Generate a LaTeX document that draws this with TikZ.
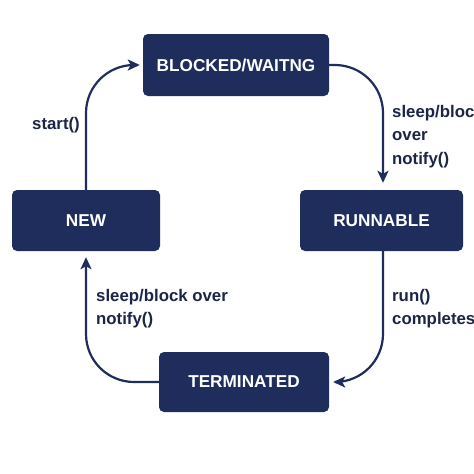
\documentclass[tikz,border=0pt]{standalone}
\usepackage{fontspec}
\setmainfont{Liberation Sans}
\usetikzlibrary{arrows.meta}
\definecolor{navy}{HTML}{1F2D5C}
\definecolor{labelc}{HTML}{1C2547}
\tikzset{
  state/.style={fill=navy, draw=none, rounded corners=5pt, text=white,
    font=\fontsize{17.2}{20}\selectfont\bfseries, inner sep=0pt},
  lbl/.style={text=labelc, anchor=west, align=left, inner sep=0pt,
    font=\fontsize{16.8}{23.5}\selectfont\bfseries},
  arr/.style={draw=navy, line width=2.2pt, rounded corners=48pt,
    -{Stealth[length=12pt,width=11pt,inset=3pt]}}
}
\begin{document}
\begin{tikzpicture}[x=1pt,y=-1pt]
\clip (0,0) rectangle (474,474);
\fill[white] (0,0) rectangle (474,474);
\node[state, minimum width=186pt, minimum height=62pt] (blocked) at (236,65) {BLOCKED/WAITNG};
\node[state, minimum width=148pt, minimum height=61pt] (new) at (86,220.5) {NEW};
\node[state, minimum width=163pt, minimum height=61pt] (runnable) at (381.5,220.5) {RUNNABLE};
\node[state, minimum width=170pt, minimum height=60pt] (term) at (244,382) {TERMINATED};
\draw[arr, shorten >=3pt] (new.north) |- (blocked.west);
\draw[arr, shorten >=7pt] (blocked.east) -| ([xshift=1.5pt]runnable.north);
\draw[arr, shorten >=4pt] ([xshift=1.5pt]runnable.south) |- (term.east);
\draw[arr, shorten >=6pt] (term.west) -| (new.south);
\node[lbl] (l1) at (32,125) {start()};
\node[lbl] (l2) at (392,136.5) {sleep/block\\over\\notify()};
\node[lbl] (l3) at (392,308.5) {run()\\completes};
\node[lbl] (l4) at (96,308.5) {sleep/block over\\notify()};
\end{tikzpicture}
\end{document}
